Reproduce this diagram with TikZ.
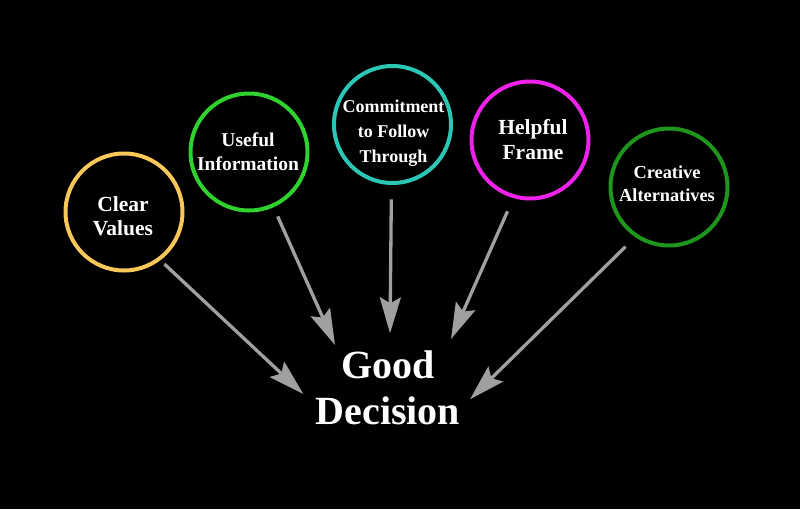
\documentclass[tikz,border=0pt]{standalone}
\usepackage{fontspec}
\setmainfont{Liberation Serif}
\usetikzlibrary{arrows.meta}
\definecolor{cyellow}{HTML}{F7C75A}
\definecolor{cgreen}{HTML}{2FD22F}
\definecolor{cteal}{HTML}{2CC6B6}
\definecolor{cmagenta}{HTML}{EE22EA}
\definecolor{cdkgreen}{HTML}{1E961E}
\definecolor{arrowgray}{HTML}{A0A0A0}
\tikzset{
  ring/.style={circle, draw=#1, line width=4pt, minimum size=117pt, inner sep=0pt},
  label/.style={text=white, align=center, inner sep=0pt, font=\bfseries\fontsize{#1}{24}\selectfont},
  bigtext/.style={text=white, align=center, inner sep=0pt, font=\bfseries\fontsize{40}{46}\selectfont},
  arr/.style={draw=arrowgray, line width=3.3pt, -{Stealth[length=36pt, width=21pt, inset=6pt]}}
}
\begin{document}
\begin{tikzpicture}[x=1pt, y=-1pt]
\fill[black] (0,0) rectangle (800,509);
\useasboundingbox (0,0) rectangle (800,509);

\node[ring=cyellow]  (c1) at (124,212) {};
\node[ring=cgreen]   (c2) at (249,152) {};
\node[ring=cteal]    (c3) at (392.5,124.5) {};
\node[ring=cmagenta] (c4) at (530,140) {};
\node[ring=cdkgreen] (c5) at (669,187) {};

\node[label=21.5] (t1) at (123,215.7) {Clear\\Values};
\node[label=19.5] (t2) at (248,151.4) {Useful\\Information};
\node[label=18, font=\bfseries\fontsize{18}{25}\selectfont] (t3) at (393.5,133) {Commitment\\to Follow\\Through};
\node[label=21.5, font=\bfseries\fontsize{21.5}{25}\selectfont] (t4) at (533,139.2) {Helpful\\Frame};
\node[label=18.3, font=\bfseries\fontsize{18.3}{23.5}\selectfont] (t5) at (667,183.8) {Creative\\Alternatives};

\node[bigtext] (gd) at (388,387.5) {Good\\Decision};

\coordinate (e1) at (303.3,394);
\coordinate (e2) at (335,345);
\coordinate (e3) at (390,333.3);
\coordinate (e4) at (451,339);
\coordinate (e5) at (470,399.3);

\draw[arr, shorten <=5.5pt]  (c1.-53.4)  -- (e1);
\draw[arr, shorten <=10pt]   (c2.-66.8)  -- (e2);
\draw[arr, shorten <=14.3pt] (c3.-91.9)  -- (e3);
\draw[arr, shorten <=14.4pt] (c4.-106.8) -- (e4);
\draw[arr, shorten <=13.6pt] (c5.-124.2) -- (e5);
\end{tikzpicture}
\end{document}
